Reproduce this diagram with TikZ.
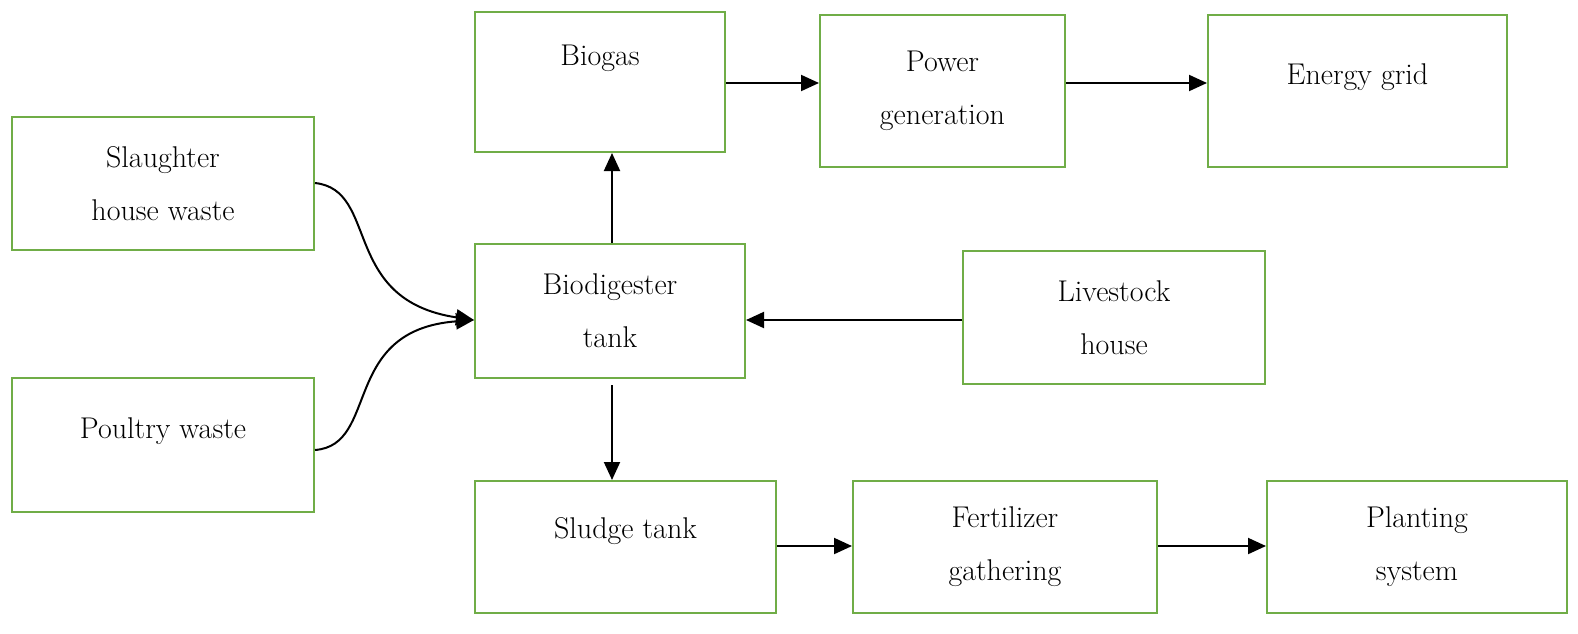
\documentclass[tikz,border=0pt]{standalone}
\usetikzlibrary{arrows.meta}
\definecolor{bgreen}{RGB}{112,173,71}
\begin{document}
\begin{tikzpicture}[x=1pt,y=-1pt,
  box/.style={draw=bgreen,line width=2pt,align=center,inner sep=0pt,font=\fontsize{30}{53}\selectfont},
  arr/.style={line width=2pt,-{Triangle[length=18pt,width=16pt]}}]
\useasboundingbox (0,0) rectangle (1578,633);
\newcommand\bx[6]{\node[box,minimum width=#4-#2,minimum height=#5-#3] (#1) at ({(#2+#4)/2},{(#3+#5)/2}) {#6};}
\bx{biogas}{475}{12}{725}{152}{Biogas\\\mbox{}}
\bx{power}{820}{15}{1065}{167}{Power\\generation}
\bx{grid}{1208}{15}{1507}{167}{Energy grid\\[-20pt]\mbox{}}
\bx{slaughter}{12}{117}{314}{250}{Slaughter\\house waste}
\bx{dig}{475}{244}{745}{378}{Biodigester\\tank}
\bx{live}{963}{251}{1265}{384}{Livestock\\house}
\bx{poultry}{12}{378}{314}{512}{Poultry waste\\[-20pt]\mbox{}}
\bx{sludge}{475}{481}{776}{613}{Sludge tank\\[-15pt]\mbox{}}
\bx{fert}{853}{481}{1157}{613}{Fertilizer\\gathering}
\bx{plant}{1267}{481}{1567}{613}{Planting\\system}
\draw[arr] (biogas.east|-0,83) -- (power.west|-0,83);
\draw[arr] (power.east|-0,83) -- (grid.west|-0,83);
\draw[arr] (612,0|-dig.north) -- (612,0|-biogas.south);
\draw[arr] (live.west|-0,320) -- (dig.east|-0,320);
\coordinate (ds) at (612,385);
\draw[arr] (ds) -- (612,0|-sludge.north);
\draw[arr] (sludge.east|-0,546) -- (fert.west|-0,546);
\draw[arr] (fert.east|-0,546) -- (plant.west|-0,546);
\draw[arr] (slaughter.east|-0,183) .. controls (380,190) and (340,300) .. (dig.west|-0,320);
\draw[arr] (poultry.east|-0,450) .. controls (380,445) and (340,330) .. (dig.west|-0,320);
\end{tikzpicture}
\end{document}
